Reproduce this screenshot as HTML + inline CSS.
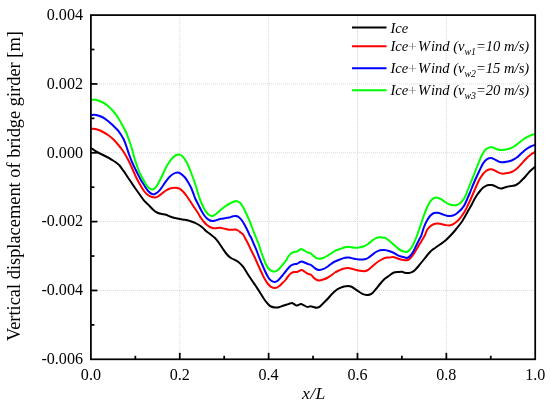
<!DOCTYPE html>
<html><head><meta charset="utf-8"><title>Vertical displacement of bridge girder</title>
<style>
html,body{margin:0;padding:0;background:#fff;}
body{width:550px;height:404px;overflow:hidden;}
svg{display:block}
text{font-family:"Liberation Serif",serif;fill:#000}
.tk{font-size:16.1px}
.ax{font-size:18.4px}
.lg{font-size:14.6px;font-style:italic}
.lg .sub{font-size:9.8px}
.lg .pl{fill:#7a7a7a;font-style:normal;font-size:15.4px}
</style></head><body>
<svg width="550" height="404" viewBox="0 0 550 404">
<rect width="550" height="404" fill="#fff"/>
<g stroke="#d6d6d6" stroke-width="1" stroke-dasharray="1 1" fill="none"><line x1="179.8" y1="15.1" x2="179.8" y2="359.3"/><line x1="268.6" y1="15.1" x2="268.6" y2="359.3"/><line x1="357.5" y1="15.1" x2="357.5" y2="359.3"/><line x1="446.3" y1="15.1" x2="446.3" y2="359.3"/><line x1="90.9" y1="83.9" x2="535.2" y2="83.9"/><line x1="90.9" y1="152.8" x2="535.2" y2="152.8"/><line x1="90.9" y1="221.6" x2="535.2" y2="221.6"/><line x1="90.9" y1="290.5" x2="535.2" y2="290.5"/></g>
<clipPath id="cp"><rect x="90.9" y="15.1" width="444.3" height="344.2"/></clipPath>
<g clip-path="url(#cp)" fill="none" stroke-width="2" stroke-linejoin="round" stroke-linecap="butt">
<path stroke="#000000" d="M91.0 148.0C91.5 148.3 92.8 149.2 94.0 150.0C95.2 150.8 96.5 151.7 98.0 152.5C99.5 153.3 101.3 154.2 103.0 155.0C104.7 155.8 106.3 156.6 108.0 157.5C109.7 158.4 111.5 159.6 113.0 160.5C114.5 161.4 115.8 162.3 117.0 163.2C118.2 164.1 119.1 164.9 120.0 166.0C120.9 167.1 121.7 168.3 122.5 169.5C123.3 170.7 123.8 171.2 125.0 173.0C126.2 174.8 128.3 178.0 130.0 180.5C131.7 183.0 133.3 185.6 135.0 188.0C136.7 190.4 138.6 193.0 140.0 195.0C141.4 197.0 142.4 198.5 143.5 199.8C144.6 201.1 145.4 201.9 146.5 203.0C147.6 204.1 148.8 205.2 150.0 206.5C151.2 207.8 152.7 209.4 154.0 210.5C155.3 211.6 156.7 212.4 158.0 213.0C159.3 213.6 160.7 213.7 162.0 214.0C163.3 214.3 164.7 214.4 166.0 214.8C167.3 215.2 168.5 216.0 170.0 216.5C171.5 217.0 173.3 217.6 175.0 218.0C176.7 218.4 178.3 218.7 180.0 219.0C181.7 219.3 183.3 219.5 185.0 219.8C186.7 220.1 188.3 220.5 190.0 221.0C191.7 221.5 193.5 222.1 195.0 222.8C196.5 223.5 197.7 224.1 199.0 225.0C200.3 225.9 201.8 227.0 203.0 228.0C204.2 229.0 204.8 230.0 206.0 231.0C207.2 232.0 208.5 232.8 210.0 234.0C211.5 235.2 213.5 236.5 215.0 238.0C216.5 239.5 217.7 241.2 219.0 243.0C220.3 244.8 221.7 247.1 223.0 249.0C224.3 250.9 225.7 253.0 227.0 254.5C228.3 256.0 229.7 257.1 231.0 258.0C232.3 258.9 233.7 259.2 235.0 260.0C236.3 260.8 237.8 261.6 239.0 262.5C240.2 263.4 241.2 264.6 242.0 265.5C242.8 266.4 243.0 266.5 244.0 268.0C245.0 269.5 246.7 272.4 248.0 274.5C249.3 276.6 250.7 278.5 252.0 280.5C253.3 282.5 254.7 284.3 256.0 286.3C257.3 288.3 258.7 290.4 260.0 292.5C261.3 294.6 262.7 297.1 264.0 299.0C265.3 300.9 266.8 302.8 268.0 304.0C269.2 305.2 269.8 305.9 271.0 306.5C272.2 307.1 273.7 307.4 275.0 307.5C276.3 307.6 277.7 307.5 279.0 307.2C280.3 306.9 281.7 306.2 283.0 305.8C284.3 305.4 285.8 304.9 287.0 304.5C288.2 304.1 289.2 303.8 290.0 303.5C290.8 303.2 291.3 302.9 292.0 303.0C292.7 303.1 293.2 303.6 294.0 304.0C294.8 304.4 295.7 305.5 296.5 305.6C297.3 305.7 298.2 304.9 299.0 304.6C299.8 304.3 300.2 303.9 301.0 304.0C301.8 304.1 302.9 304.8 304.0 305.3C305.1 305.8 306.4 306.9 307.5 307.0C308.6 307.1 309.5 306.2 310.5 306.2C311.5 306.2 312.5 306.7 313.5 307.0C314.5 307.3 315.6 307.8 316.5 307.8C317.4 307.8 318.1 307.8 319.0 307.2C319.9 306.6 321.0 305.4 322.0 304.5C323.0 303.6 324.0 302.5 325.0 301.5C326.0 300.5 327.0 299.6 328.0 298.5C329.0 297.4 330.0 296.1 331.0 295.0C332.0 293.9 333.0 292.9 334.0 292.0C335.0 291.1 336.0 290.2 337.0 289.5C338.0 288.8 338.8 288.5 340.0 288.0C341.2 287.5 342.7 286.8 344.0 286.5C345.3 286.2 346.8 286.0 348.0 286.0C349.2 286.0 349.8 286.0 351.0 286.5C352.2 287.0 353.7 288.1 355.0 289.0C356.3 289.9 357.7 290.9 359.0 291.8C360.3 292.7 361.8 293.7 363.0 294.2C364.2 294.7 365.3 294.9 366.5 295.0C367.7 295.1 368.9 294.9 370.0 294.5C371.1 294.1 372.0 293.4 373.0 292.5C374.0 291.6 374.8 290.4 376.0 289.0C377.2 287.6 378.7 285.6 380.0 284.0C381.3 282.4 382.7 280.8 384.0 279.5C385.3 278.2 386.8 277.4 388.0 276.5C389.2 275.6 390.0 275.0 391.0 274.3C392.0 273.6 392.8 272.9 394.0 272.5C395.2 272.1 396.7 272.1 398.0 272.0C399.3 271.9 400.8 271.7 402.0 271.8C403.2 271.9 403.8 272.6 405.0 272.8C406.2 273.0 407.8 273.1 409.0 273.0C410.2 272.9 411.0 272.7 412.0 272.2C413.0 271.7 413.8 271.1 415.0 270.0C416.2 268.9 417.7 267.1 419.0 265.5C420.3 263.9 421.7 262.2 423.0 260.5C424.3 258.8 425.7 257.1 427.0 255.5C428.3 253.9 429.7 252.2 431.0 251.0C432.3 249.8 433.5 249.1 435.0 248.0C436.5 246.9 438.2 245.8 440.0 244.5C441.8 243.2 444.2 241.6 446.0 240.0C447.8 238.4 449.5 236.6 451.0 235.0C452.5 233.4 453.7 232.1 455.0 230.5C456.3 228.9 457.8 227.0 459.0 225.5C460.2 224.0 461.0 223.0 462.0 221.5C463.0 220.0 464.0 218.2 465.0 216.5C466.0 214.8 466.9 212.9 468.0 211.0C469.1 209.1 470.5 206.8 471.5 205.0C472.5 203.2 473.1 201.7 474.0 200.0C474.9 198.3 476.0 196.5 477.0 195.0C478.0 193.5 479.0 192.2 480.0 191.0C481.0 189.8 482.0 188.7 483.0 187.8C484.0 186.9 485.0 186.3 486.0 185.8C487.0 185.3 488.0 185.1 489.0 185.0C490.0 184.9 491.0 184.8 492.0 185.0C493.0 185.2 494.0 185.7 495.0 186.1C496.0 186.5 497.0 187.2 498.0 187.6C499.0 188.0 500.0 188.5 501.0 188.5C502.0 188.5 503.0 188.1 504.0 187.8C505.0 187.5 506.0 187.1 507.0 186.8C508.0 186.5 509.0 186.4 510.0 186.2C511.0 186.0 512.0 186.0 513.0 185.8C514.0 185.6 515.0 185.5 516.0 185.0C517.0 184.5 518.0 183.8 519.0 183.0C520.0 182.2 521.0 181.0 522.0 180.0C523.0 179.0 524.0 178.1 525.0 177.0C526.0 175.9 527.0 174.4 528.0 173.3C529.0 172.2 529.8 171.4 531.0 170.3C532.2 169.2 534.6 167.1 535.3 166.5"/>
<path stroke="#ff0000" d="M91.0 129.0C91.3 129.0 91.8 128.7 93.0 128.8C94.2 128.9 96.3 129.3 98.0 129.8C99.7 130.3 101.3 131.1 103.0 132.0C104.7 132.9 106.3 133.8 108.0 135.0C109.7 136.2 111.3 137.4 113.0 139.0C114.7 140.6 116.3 142.5 118.0 144.5C119.7 146.5 121.3 148.5 123.0 151.0C124.7 153.5 126.5 156.7 128.0 159.5C129.5 162.3 130.7 165.1 132.0 168.0C133.3 170.9 134.7 174.2 136.0 177.0C137.3 179.8 138.7 182.2 140.0 184.5C141.3 186.8 142.7 189.2 144.0 191.0C145.3 192.8 146.7 194.0 148.0 195.0C149.3 196.0 150.8 196.6 152.0 197.0C153.2 197.4 154.0 197.5 155.0 197.4C156.0 197.3 156.8 197.2 158.0 196.5C159.2 195.8 160.7 194.5 162.0 193.5C163.3 192.5 164.7 191.3 166.0 190.5C167.3 189.7 168.5 189.0 170.0 188.5C171.5 188.0 173.5 187.7 175.0 187.7C176.5 187.7 177.7 187.9 179.0 188.5C180.3 189.1 181.7 190.2 183.0 191.5C184.3 192.8 185.7 194.7 187.0 196.5C188.3 198.3 189.7 200.5 191.0 202.5C192.3 204.5 193.8 206.8 195.0 208.5C196.2 210.2 197.0 211.4 198.0 213.0C199.0 214.6 200.0 216.5 201.0 218.0C202.0 219.5 203.0 220.8 204.0 222.0C205.0 223.2 206.0 224.2 207.0 225.0C208.0 225.8 209.0 226.5 210.0 227.0C211.0 227.5 212.0 228.0 213.0 228.2C214.0 228.4 214.8 228.3 216.0 228.2C217.2 228.1 218.5 227.7 220.0 227.8C221.5 227.9 223.3 228.5 225.0 228.8C226.7 229.1 228.3 229.7 230.0 229.8C231.7 229.9 233.7 229.4 235.0 229.5C236.3 229.6 237.0 229.9 238.0 230.5C239.0 231.1 240.1 232.1 241.0 232.8C241.9 233.6 242.8 234.1 243.5 235.0C244.2 235.9 244.2 236.6 245.0 238.0C245.8 239.4 247.0 241.5 248.0 243.5C249.0 245.5 249.8 247.6 251.0 250.0C252.2 252.4 253.7 255.2 255.0 258.0C256.3 260.8 257.8 264.4 259.0 267.0C260.2 269.6 261.0 271.4 262.0 273.5C263.0 275.6 264.0 277.8 265.0 279.5C266.0 281.2 267.0 282.8 268.0 284.0C269.0 285.2 269.8 286.1 271.0 286.8C272.2 287.5 273.7 288.1 275.0 288.0C276.3 287.9 277.7 287.1 279.0 286.2C280.3 285.3 281.9 283.5 283.0 282.5C284.1 281.5 284.7 281.0 285.5 280.0C286.3 279.0 287.1 277.6 288.0 276.5C288.9 275.4 290.0 273.9 291.0 273.2C292.0 272.4 293.0 272.2 294.0 272.0C295.0 271.8 296.0 272.2 297.0 272.0C298.0 271.8 299.2 270.8 300.0 270.5C300.8 270.2 301.2 269.8 302.0 270.0C302.8 270.2 304.0 271.4 305.0 272.0C306.0 272.6 307.0 273.3 308.0 273.8C309.0 274.3 310.0 274.1 311.0 274.8C312.0 275.5 313.0 277.1 314.0 278.0C315.0 278.9 316.1 279.6 317.0 280.0C317.9 280.4 318.5 280.6 319.5 280.5C320.5 280.4 321.8 279.9 323.0 279.5C324.2 279.1 325.7 278.7 327.0 278.0C328.3 277.3 329.7 276.4 331.0 275.5C332.3 274.6 333.7 273.3 335.0 272.5C336.3 271.7 337.7 271.1 339.0 270.5C340.3 269.9 341.5 269.2 343.0 268.8C344.5 268.4 346.5 268.0 348.0 268.0C349.5 268.0 350.7 268.5 352.0 268.8C353.3 269.1 354.7 269.7 356.0 270.0C357.3 270.3 358.7 270.6 360.0 270.8C361.3 271.0 362.8 271.2 364.0 271.2C365.2 271.1 365.8 271.1 367.0 270.5C368.2 269.9 369.7 268.6 371.0 267.5C372.3 266.4 373.7 265.1 375.0 264.0C376.3 262.9 377.7 261.9 379.0 261.0C380.3 260.1 381.7 259.4 383.0 258.8C384.3 258.2 386.0 257.8 387.0 257.6C388.0 257.4 388.0 257.7 389.0 257.6C390.0 257.5 391.7 256.9 393.0 257.0C394.3 257.1 395.7 257.8 397.0 258.2C398.3 258.6 399.7 259.2 401.0 259.5C402.3 259.8 403.8 260.1 405.0 260.2C406.2 260.3 407.0 260.4 408.0 260.0C409.0 259.6 410.0 258.6 411.0 257.5C412.0 256.4 413.0 255.0 414.0 253.5C415.0 252.0 416.0 250.2 417.0 248.5C418.0 246.8 419.0 245.2 420.0 243.5C421.0 241.8 422.2 239.9 423.0 238.5C423.8 237.1 424.3 236.4 425.0 235.0C425.7 233.6 426.2 231.4 427.0 230.0C427.8 228.6 429.0 227.4 430.0 226.5C431.0 225.6 431.8 225.0 433.0 224.5C434.2 224.0 435.7 223.6 437.0 223.5C438.3 223.4 439.7 223.8 441.0 224.0C442.3 224.2 443.7 224.8 445.0 225.0C446.3 225.2 447.8 225.5 449.0 225.5C450.2 225.5 451.0 225.2 452.0 224.8C453.0 224.4 454.0 223.7 455.0 223.0C456.0 222.3 457.0 221.5 458.0 220.5C459.0 219.5 459.8 218.6 461.0 217.0C462.2 215.4 463.8 213.0 465.0 211.0C466.2 209.0 467.0 207.1 468.0 205.0C469.0 202.9 470.0 200.8 471.0 198.5C472.0 196.2 473.0 193.8 474.0 191.5C475.0 189.2 476.0 186.7 477.0 184.5C478.0 182.3 479.0 180.2 480.0 178.5C481.0 176.8 482.0 175.2 483.0 174.0C484.0 172.8 485.0 171.8 486.0 171.0C487.0 170.2 488.1 169.8 489.0 169.5C489.9 169.2 490.5 169.0 491.5 169.2C492.5 169.4 493.8 170.0 495.0 170.6C496.2 171.2 497.3 172.1 498.6 172.6C499.9 173.1 501.4 173.6 502.8 173.7C504.2 173.8 505.4 173.4 506.9 173.1C508.4 172.8 510.0 172.7 511.6 172.0C513.2 171.3 514.8 170.3 516.4 169.0C518.0 167.7 519.5 166.0 521.1 164.3C522.7 162.6 524.2 160.6 525.8 159.0C527.4 157.4 529.0 156.0 530.6 154.8C532.2 153.6 534.5 152.4 535.3 151.9"/>
<path stroke="#0000ff" d="M91.0 115.0C91.5 115.0 92.8 114.6 94.0 114.7C95.2 114.8 96.5 115.0 98.0 115.5C99.5 116.0 101.3 116.6 103.0 117.5C104.7 118.4 106.3 119.7 108.0 121.0C109.7 122.3 111.3 123.9 113.0 125.5C114.7 127.1 116.7 129.0 118.0 130.5C119.3 132.0 120.0 133.1 121.0 134.7C122.0 136.3 123.1 137.9 124.0 140.0C124.9 142.1 125.8 144.6 126.6 147.0C127.4 149.4 128.2 152.0 129.1 154.5C130.0 157.0 130.9 159.5 132.0 162.0C133.1 164.5 134.4 167.3 135.5 169.5C136.6 171.7 137.4 173.2 138.3 175.0C139.2 176.8 140.1 178.7 141.2 180.5C142.3 182.3 143.5 184.2 144.7 186.0C145.9 187.8 147.0 189.9 148.3 191.3C149.6 192.7 151.2 194.0 152.5 194.3C153.8 194.6 154.8 194.1 156.0 193.3C157.2 192.6 158.5 191.6 160.0 189.8C161.5 188.0 163.5 184.8 165.0 182.7C166.5 180.6 167.7 178.9 169.0 177.5C170.3 176.1 171.6 174.8 173.0 174.0C174.4 173.2 176.2 172.5 177.5 172.5C178.8 172.5 179.8 173.0 181.0 173.8C182.2 174.6 183.8 176.1 185.0 177.5C186.2 178.9 187.0 180.3 188.0 182.0C189.0 183.7 190.2 185.8 191.0 187.5C191.8 189.2 192.3 190.8 193.0 192.5C193.7 194.2 194.2 196.1 195.0 198.0C195.8 199.9 197.0 202.0 198.0 204.0C199.0 206.0 200.0 208.2 201.0 210.0C202.0 211.8 203.0 213.6 204.0 215.0C205.0 216.4 206.0 217.6 207.0 218.5C208.0 219.4 209.0 220.1 210.0 220.5C211.0 220.9 211.8 221.1 213.0 221.0C214.2 220.9 215.7 220.4 217.0 220.0C218.3 219.6 219.7 219.1 221.0 218.8C222.3 218.5 223.7 218.4 225.0 218.2C226.3 218.0 227.7 217.8 229.0 217.5C230.3 217.2 231.8 216.6 233.0 216.3C234.2 216.1 235.0 215.8 236.0 216.0C237.0 216.2 238.0 216.4 239.0 217.2C240.0 217.9 241.0 219.1 242.0 220.5C243.0 221.9 244.0 223.7 245.0 225.5C246.0 227.3 247.2 229.9 248.0 231.5C248.8 233.1 249.0 234.0 249.5 235.0C250.0 236.0 250.2 235.9 251.0 237.5C251.8 239.1 253.0 242.2 254.0 244.5C255.0 246.8 256.2 249.4 257.0 251.5C257.8 253.6 258.2 254.9 259.0 257.0C259.8 259.1 261.0 261.7 262.0 264.0C263.0 266.3 264.0 268.8 265.0 271.0C266.0 273.2 267.0 275.4 268.0 277.0C269.0 278.6 269.9 279.7 271.0 280.5C272.1 281.3 273.3 282.0 274.5 282.0C275.7 282.0 276.8 281.5 278.0 280.5C279.2 279.5 280.7 277.6 282.0 276.0C283.3 274.4 285.0 272.2 286.0 271.0C287.0 269.8 287.2 269.4 288.0 268.5C288.8 267.6 290.0 266.2 291.0 265.5C292.0 264.8 293.0 264.5 294.0 264.2C295.0 263.9 296.0 264.2 297.0 263.8C298.0 263.4 299.2 262.4 300.0 262.0C300.8 261.6 301.2 261.4 302.0 261.5C302.8 261.6 304.0 262.4 305.0 262.8C306.0 263.2 307.0 263.6 308.0 264.0C309.0 264.4 310.0 264.4 311.0 265.0C312.0 265.6 313.0 266.8 314.0 267.5C315.0 268.2 316.1 269.1 317.0 269.5C317.9 269.9 318.5 270.1 319.5 270.0C320.5 269.9 321.8 269.7 323.0 269.2C324.2 268.7 325.7 267.9 327.0 267.0C328.3 266.1 329.7 264.9 331.0 264.0C332.3 263.1 333.5 262.2 335.0 261.5C336.5 260.8 338.3 260.1 340.0 259.5C341.7 258.9 343.5 258.1 345.0 257.8C346.5 257.5 347.7 257.4 349.0 257.5C350.3 257.6 351.7 258.2 353.0 258.5C354.3 258.8 355.7 259.0 357.0 259.2C358.3 259.4 359.8 259.5 361.0 259.5C362.2 259.5 363.3 259.6 364.5 259.3C365.7 259.1 366.8 258.7 368.0 258.0C369.2 257.3 370.7 256.0 372.0 255.0C373.3 254.0 374.7 252.8 376.0 252.0C377.3 251.2 378.7 250.5 380.0 250.2C381.3 249.9 382.8 250.0 384.0 250.0C385.2 250.0 386.2 250.2 387.0 250.4C387.8 250.6 388.0 250.7 389.0 251.0C390.0 251.3 391.7 251.9 393.0 252.5C394.3 253.1 395.7 254.1 397.0 254.8C398.3 255.5 399.7 256.1 401.0 256.5C402.3 256.9 403.9 257.3 405.0 257.5C406.1 257.7 406.7 258.1 407.5 257.8C408.3 257.6 409.1 257.0 410.0 256.0C410.9 255.0 412.0 253.7 413.0 252.0C414.0 250.3 415.0 248.0 416.0 246.0C417.0 244.0 418.1 241.8 419.0 240.0C419.9 238.2 420.7 237.2 421.5 235.0C422.3 232.8 423.1 229.4 424.0 227.0C424.9 224.6 426.0 222.3 427.0 220.5C428.0 218.7 429.0 217.2 430.0 216.0C431.0 214.8 432.0 214.0 433.0 213.5C434.0 213.0 435.0 212.9 436.0 212.8C437.0 212.7 437.8 212.7 439.0 213.0C440.2 213.3 441.7 214.0 443.0 214.5C444.3 215.0 445.8 215.6 447.0 215.8C448.2 216.1 449.0 216.1 450.0 216.0C451.0 215.9 452.0 215.8 453.0 215.5C454.0 215.2 455.0 214.7 456.0 214.0C457.0 213.3 458.0 212.4 459.0 211.5C460.0 210.6 461.1 209.6 462.0 208.5C462.9 207.4 463.7 206.5 464.5 205.0C465.3 203.5 466.1 201.6 467.0 199.5C467.9 197.4 469.0 194.9 470.0 192.5C471.0 190.1 472.0 187.4 473.0 185.0C474.0 182.6 474.9 180.5 476.0 178.0C477.1 175.5 478.5 172.7 479.7 170.2C480.9 167.7 482.1 164.9 483.3 163.1C484.5 161.3 485.5 160.1 486.8 159.3C488.1 158.5 489.6 158.1 491.0 158.1C492.4 158.1 493.7 159.0 495.1 159.6C496.5 160.2 497.9 161.2 499.2 161.7C500.5 162.1 501.5 162.3 502.8 162.3C504.1 162.3 505.4 162.0 506.9 161.7C508.4 161.4 510.0 161.2 511.6 160.5C513.2 159.8 514.8 159.0 516.4 157.8C518.0 156.7 519.5 155.0 521.1 153.6C522.7 152.2 524.2 150.7 525.8 149.5C527.4 148.3 529.0 147.3 530.6 146.5C532.2 145.7 534.5 145.1 535.3 144.8"/>
<path stroke="#00ff00" d="M91.0 100.2C91.8 100.1 93.5 99.3 95.5 99.7C97.5 100.1 100.9 101.5 103.0 102.5C105.1 103.5 106.3 104.6 108.0 106.0C109.7 107.4 111.3 109.1 113.0 111.0C114.7 112.9 116.3 114.9 118.0 117.5C119.7 120.1 121.7 124.1 123.0 126.5C124.3 128.9 125.0 129.8 126.0 132.0C127.0 134.2 128.0 137.2 129.0 140.0C130.0 142.8 131.0 145.7 132.0 149.0C133.0 152.3 133.9 156.5 135.0 160.0C136.1 163.5 137.5 167.4 138.5 170.0C139.5 172.6 140.2 173.8 141.0 175.5C141.8 177.2 142.7 178.5 143.5 180.0C144.3 181.5 145.1 183.2 146.0 184.5C146.9 185.8 148.0 187.2 149.0 188.0C150.0 188.8 151.1 189.5 152.0 189.6C152.9 189.7 153.7 189.3 154.5 188.6C155.3 187.9 156.1 186.9 157.0 185.5C157.9 184.1 159.1 181.8 160.0 180.0C160.9 178.2 161.7 176.7 162.5 175.0C163.3 173.3 163.9 171.8 164.8 170.0C165.7 168.2 166.8 165.9 168.0 164.0C169.2 162.1 170.7 160.0 172.0 158.5C173.3 157.0 174.8 155.9 176.0 155.2C177.2 154.5 178.0 154.4 179.0 154.5C180.0 154.6 181.0 155.2 182.0 156.0C183.0 156.8 184.0 158.0 185.0 159.5C186.0 161.0 187.0 162.8 188.0 165.0C189.0 167.2 190.0 169.9 191.0 172.5C192.0 175.1 193.1 177.9 194.0 180.5C194.9 183.1 195.8 185.6 196.5 188.0C197.2 190.4 197.8 192.7 198.5 195.0C199.2 197.3 200.1 199.8 201.0 202.0C201.9 204.2 203.0 206.7 204.0 208.5C205.0 210.3 206.0 211.8 207.0 213.0C208.0 214.2 209.1 215.0 210.0 215.5C210.9 216.0 211.5 216.2 212.5 216.0C213.5 215.8 214.8 214.9 216.0 214.0C217.2 213.1 218.5 211.8 220.0 210.5C221.5 209.2 223.3 207.7 225.0 206.5C226.7 205.3 228.5 204.3 230.0 203.5C231.5 202.7 232.8 201.9 234.0 201.5C235.2 201.1 236.0 201.0 237.0 201.2C238.0 201.4 239.0 201.8 240.0 202.8C241.0 203.8 242.0 205.3 243.0 207.0C244.0 208.7 244.8 210.5 246.0 213.0C247.2 215.5 248.8 219.2 250.0 222.0C251.2 224.8 252.0 227.4 253.0 230.0C254.0 232.6 255.0 235.0 256.0 237.5C257.0 240.0 258.2 242.9 259.0 245.0C259.8 247.1 259.8 248.0 260.5 250.0C261.2 252.0 262.1 254.6 263.0 257.0C263.9 259.4 265.0 262.5 266.0 264.5C267.0 266.5 268.0 267.9 269.0 269.0C270.0 270.1 271.1 270.6 272.0 271.0C272.9 271.4 273.5 271.7 274.5 271.5C275.5 271.3 276.8 271.0 278.0 270.0C279.2 269.0 280.7 267.1 282.0 265.5C283.3 263.9 285.0 261.9 286.0 260.5C287.0 259.1 287.2 258.2 288.0 257.0C288.8 255.8 290.0 254.3 291.0 253.5C292.0 252.7 293.0 252.3 294.0 252.0C295.0 251.7 296.0 251.9 297.0 251.5C298.0 251.1 299.2 249.9 300.0 249.5C300.8 249.1 301.2 248.9 302.0 249.2C302.8 249.4 304.0 250.4 305.0 251.0C306.0 251.6 307.1 252.2 308.0 252.5C308.9 252.8 309.7 252.5 310.5 253.0C311.3 253.5 312.1 254.7 313.0 255.5C313.9 256.3 314.9 257.2 316.0 257.8C317.1 258.4 318.3 258.8 319.5 258.8C320.7 258.8 321.8 258.5 323.0 258.0C324.2 257.5 325.7 256.8 327.0 256.0C328.3 255.2 329.7 254.4 331.0 253.5C332.3 252.6 333.5 251.6 335.0 250.8C336.5 250.1 338.3 249.6 340.0 249.0C341.7 248.4 343.6 247.7 345.0 247.3C346.4 246.9 347.3 246.8 348.5 246.8C349.7 246.8 350.8 247.1 352.0 247.3C353.2 247.5 354.7 247.8 356.0 247.8C357.3 247.8 358.7 247.5 360.0 247.2C361.3 246.9 362.7 246.7 364.0 246.2C365.3 245.7 366.7 244.9 368.0 244.0C369.3 243.1 370.7 241.8 372.0 240.8C373.3 239.8 374.8 238.8 376.0 238.2C377.2 237.6 378.3 237.4 379.5 237.3C380.7 237.2 381.9 237.3 383.0 237.5C384.1 237.7 385.0 237.8 386.0 238.3C387.0 238.8 387.8 239.6 389.0 240.5C390.2 241.4 391.7 242.8 393.0 244.0C394.3 245.2 395.7 246.4 397.0 247.5C398.3 248.6 399.7 249.8 401.0 250.5C402.3 251.2 404.0 251.6 405.0 251.8C406.0 252.0 406.2 252.2 407.0 251.8C407.8 251.4 409.0 250.6 410.0 249.5C411.0 248.4 412.2 246.5 413.0 245.0C413.8 243.5 414.3 242.1 415.0 240.5C415.7 238.9 416.2 237.8 417.0 235.5C417.8 233.2 419.0 229.9 420.0 227.0C421.0 224.1 422.0 220.8 423.0 218.0C424.0 215.2 425.0 212.4 426.0 210.0C427.0 207.6 428.0 205.2 429.0 203.5C430.0 201.8 431.0 200.4 432.0 199.5C433.0 198.6 434.1 198.1 435.0 197.8C435.9 197.5 436.5 197.5 437.5 197.7C438.5 197.9 439.8 198.5 441.0 199.2C442.2 199.9 443.7 201.2 445.0 202.0C446.3 202.8 447.7 203.7 449.0 204.2C450.3 204.7 451.8 205.0 453.0 205.2C454.2 205.4 455.0 205.4 456.0 205.2C457.0 205.0 458.0 204.7 459.0 204.0C460.0 203.3 461.0 202.4 462.0 201.2C463.0 200.0 464.0 198.9 465.0 197.0C466.0 195.1 467.0 192.0 468.0 189.5C469.0 187.0 470.0 184.5 471.0 182.0C472.0 179.5 473.1 176.8 474.0 174.5C474.9 172.2 475.8 169.9 476.5 168.0C477.2 166.1 477.6 165.3 478.5 163.1C479.4 160.9 480.9 157.1 482.1 154.8C483.3 152.5 484.4 150.7 485.6 149.5C486.8 148.3 488.1 147.9 489.2 147.5C490.3 147.1 490.8 147.1 492.0 147.3C493.2 147.5 494.9 148.4 496.3 148.9C497.7 149.4 499.0 150.0 500.4 150.1C501.8 150.2 503.1 149.9 504.6 149.7C506.1 149.5 507.7 149.2 509.3 148.7C510.9 148.2 512.4 147.4 514.0 146.5C515.6 145.6 517.1 144.2 518.7 143.0C520.3 141.8 521.9 140.3 523.5 139.2C525.1 138.1 526.8 137.2 528.2 136.5C529.6 135.8 530.5 135.4 531.7 135.0C532.9 134.6 534.7 134.2 535.3 134.1"/>
</g>
<g stroke="#000" stroke-width="1.75" fill="none"><line x1="135.33" y1="359.3" x2="135.33" y2="355.8"/><line x1="179.76" y1="359.3" x2="179.76" y2="352.8"/><line x1="224.19" y1="359.3" x2="224.19" y2="355.8"/><line x1="268.62" y1="359.3" x2="268.62" y2="352.8"/><line x1="313.05" y1="359.3" x2="313.05" y2="355.8"/><line x1="357.48" y1="359.3" x2="357.48" y2="352.8"/><line x1="401.91" y1="359.3" x2="401.91" y2="355.8"/><line x1="446.34" y1="359.3" x2="446.34" y2="352.8"/><line x1="490.77" y1="359.3" x2="490.77" y2="355.8"/><line x1="90.9" y1="49.52" x2="94.4" y2="49.52"/><line x1="90.9" y1="83.94" x2="97.4" y2="83.94"/><line x1="90.9" y1="118.36" x2="94.4" y2="118.36"/><line x1="90.9" y1="152.78" x2="97.4" y2="152.78"/><line x1="90.9" y1="187.20" x2="94.4" y2="187.20"/><line x1="90.9" y1="221.62" x2="97.4" y2="221.62"/><line x1="90.9" y1="256.04" x2="94.4" y2="256.04"/><line x1="90.9" y1="290.46" x2="97.4" y2="290.46"/><line x1="90.9" y1="324.88" x2="94.4" y2="324.88"/>
<rect x="90.9" y="15.1" width="444.3" height="344.2"/></g>
<g class="tk"><text x="90.9" y="380.3" text-anchor="middle">0.0</text><text x="179.8" y="380.3" text-anchor="middle">0.2</text><text x="268.6" y="380.3" text-anchor="middle">0.4</text><text x="357.5" y="380.3" text-anchor="middle">0.6</text><text x="446.3" y="380.3" text-anchor="middle">0.8</text><text x="535.2" y="380.3" text-anchor="middle">1.0</text><text x="83.0" y="19.9" text-anchor="end">0.004</text><text x="83.0" y="88.7" text-anchor="end">0.002</text><text x="83.0" y="157.6" text-anchor="end">0.000</text><text x="83.0" y="226.4" text-anchor="end">-0.002</text><text x="83.0" y="295.3" text-anchor="end">-0.004</text><text x="83.0" y="364.1" text-anchor="end">-0.006</text></g>
<text class="ax" x="313.8" y="399.4" text-anchor="middle" font-style="italic" style="font-size:17.7px;letter-spacing:0.3px">x/L</text>
<text class="ax" transform="translate(20.3 186.1) rotate(-90)" text-anchor="middle">Vertical displacement of bridge girder [m]</text>
<g stroke-width="2" fill="none">
<line x1="352" y1="27.5" x2="386.5" y2="27.5" stroke="#000"/>
<line x1="352" y1="46.2" x2="386.5" y2="46.2" stroke="#f00"/>
<line x1="352" y1="68.2" x2="386.5" y2="68.2" stroke="#00f"/>
<line x1="352" y1="90.2" x2="386.5" y2="90.2" stroke="#0f0"/>
</g>
<g class="lg">
<text x="390.5" y="32.5">Ice</text>
<text x="390.5" y="51.1">Ice<tspan class="pl">+</tspan><tspan dx="1">W</tspan><tspan dx="1.5">ind (v</tspan><tspan class="sub" dy="3.8">w1</tspan><tspan dy="-3.8">=10 m/s)</tspan></text>
<text x="390.5" y="72.9">Ice<tspan class="pl">+</tspan><tspan dx="1">W</tspan><tspan dx="1.5">ind (v</tspan><tspan class="sub" dy="3.8">w2</tspan><tspan dy="-3.8">=15 m/s)</tspan></text>
<text x="390.5" y="94.8">Ice<tspan class="pl">+</tspan><tspan dx="1">W</tspan><tspan dx="1.5">ind (v</tspan><tspan class="sub" dy="3.8">w3</tspan><tspan dy="-3.8">=20 m/s)</tspan></text>
</g>
</svg>
</body></html>
